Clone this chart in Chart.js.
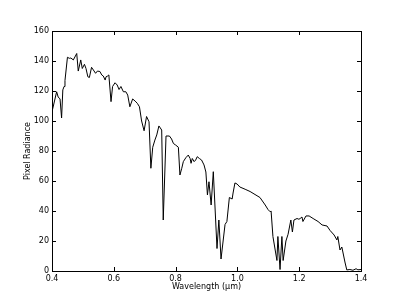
<!DOCTYPE html>
<html><head><meta charset="utf-8">
<script src="https://cdn.jsdelivr.net/npm/chart.js@4/dist/chart.umd.min.js"></script>
<style>html,body{margin:0;padding:0;background:#fff;}canvas{display:block;}</style>
</head><body>
<canvas id="c" width="400" height="303"></canvas>
<script>
const wavelengths = [0.401,0.415,0.420,0.426,0.431,0.435,0.439,0.442,0.450,0.456,0.461,0.469,0.480,0.485,0.493,0.498,0.505,0.510,0.516,0.521,0.528,0.534,0.541,0.547,0.555,0.561,0.566,0.572,0.575,0.580,0.584,0.591,0.596,0.604,0.611,0.617,0.623,0.631,0.639,0.645,0.652,0.661,0.669,0.676,0.683,0.690,0.698,0.706,0.714,0.720,0.726,0.733,0.739,0.746,0.755,0.760,0.769,0.780,0.787,0.793,0.800,0.809,0.814,0.820,0.825,0.833,0.841,0.847,0.850,0.854,0.860,0.865,0.870,0.877,0.884,0.892,0.898,0.903,0.908,0.915,0.922,0.934,0.940,0.947,0.960,0.966,0.974,0.983,0.986,0.992,0.999,1.008,1.025,1.041,1.057,1.073,1.090,1.099,1.106,1.109,1.115,1.128,1.131,1.138,1.144,1.148,1.157,1.164,1.173,1.178,1.183,1.193,1.199,1.203,1.209,1.212,1.222,1.232,1.245,1.261,1.274,1.290,1.300,1.313,1.322,1.325,1.332,1.338,1.342,1.348,1.354,1.364,1.374,1.384,1.390,1.400];
const radiance = [107,119.5,116,114.7,102,120.7,123,127,142.5,141.8,142,140.7,145,133.3,140.7,135,137.8,135,129.5,129,135.8,134,131.8,133.3,133,130.7,130,127.3,129.5,130,130.7,112.9,123,125.5,124,121,123,119.5,119.5,117.3,109.5,114.7,113.3,111.8,109.5,100,93.5,103,99.5,68.5,82.5,87.3,90.7,96.7,94,34,90,90,88,85,84,82.5,64,68.5,72.9,75.5,77.3,75,71.8,75,72.9,74,76.2,75,74,70.7,66,50.7,59.5,44,66.2,15,34,8,31,33,49,48,52,58.7,58,56,54.5,53,51,49,44,41,39.5,40,23,7,23,1,23,7,20,24.5,34,26,34,35,34.5,35,36,33,36.7,36.7,35,33,30.7,30,27,24,20.7,23,14,16,12,6,0.7,1,0.5,1.5,0.8,1];
const xTicks = [0.4,0.6,0.8,1.0,1.2,1.4];
const yTicks = [0,20,40,60,80,100,120,140,160];
const xLabel = 'Wavelength (μm)';
const yLabel = 'Pixel Radiance';

const font = {family:'DejaVu Sans', size:8};
const framePlugin = {
  id:'frame',
  afterDraw(chart){
    const {ctx, chartArea:a, scales} = chart;
    ctx.save();
    ctx.strokeStyle = '#000'; ctx.lineWidth = 1;
    ctx.strokeRect(Math.round(a.left)+0.5, Math.round(a.top)+0.5, Math.round(a.right-a.left), Math.round(a.bottom-a.top));
    const L = 4;
    ctx.beginPath();
    xTicks.forEach(v=>{
      const p = Math.round(scales.x.getPixelForValue(v))+0.5;
      ctx.moveTo(p,a.bottom); ctx.lineTo(p,a.bottom-L);
      ctx.moveTo(p,a.top); ctx.lineTo(p,a.top+L);
    });
    yTicks.forEach(v=>{
      const p = Math.round(scales.y.getPixelForValue(v))+0.5;
      ctx.moveTo(a.left,p); ctx.lineTo(a.left+L,p);
      ctx.moveTo(a.right,p); ctx.lineTo(a.right-L,p);
    });
    ctx.stroke();
    ctx.restore();
  }
};

new Chart(document.getElementById('c'), {
  type:'line',
  data:{datasets:[{
    data: wavelengths.map((w,i)=>({x:w, y:radiance[i]})),
    borderColor:'#000', borderWidth:1, pointRadius:0, tension:0, fill:false
  }]},
  options:{
    responsive:false, animation:false, devicePixelRatio:1,
    layout:{padding:{top:31,right:39,left:0,bottom:0}},
    plugins:{legend:{display:false}, tooltip:{enabled:false}},
    scales:{
      x:{type:'linear', min:0.4, max:1.4,
        afterBuildTicks:s=>{s.ticks = xTicks.map(v=>({value:v}));},
        ticks:{callback:v=>Number(v).toFixed(1), color:'#000', font, padding:3, maxRotation:0, autoSkip:false},
        grid:{display:false, drawTicks:false}, border:{display:false},
        title:{display:true, text:xLabel, color:'#000', font, padding:{top:0,bottom:11}},
        afterFit:s=>{s.height = 32;}
      },
      y:{type:'linear', min:0, max:160,
        afterBuildTicks:s=>{s.ticks = yTicks.map(v=>({value:v}));},
        ticks:{color:'#000', font, padding:3, autoSkip:false},
        grid:{display:false, drawTicks:false}, border:{display:false},
        title:{display:true, text:yLabel, color:'#000', font, padding:{top:23,bottom:0}},
        afterFit:s=>{s.width = 52;}
      }
    }
  },
  plugins:[framePlugin]
});
</script>
</body></html>
